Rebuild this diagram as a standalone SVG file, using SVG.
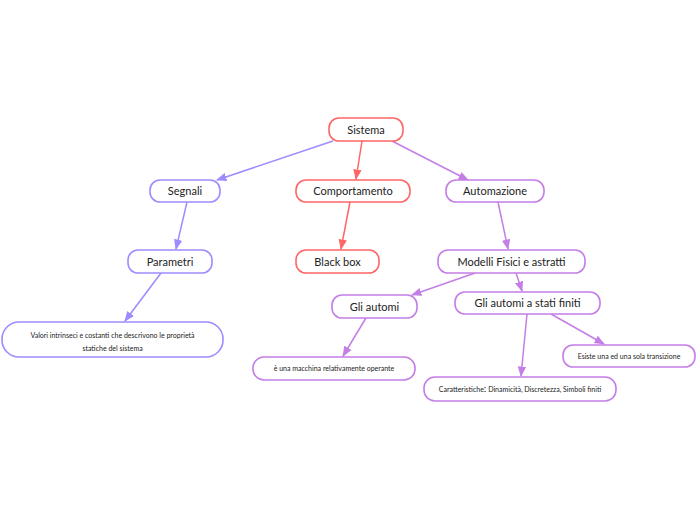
<svg xmlns="http://www.w3.org/2000/svg" width="697" height="520" viewBox="0 0 697 520">
<defs>
<marker id="ar" viewBox="0 0 10 10" refX="9" refY="5" markerWidth="7" markerHeight="7" orient="auto"><path d="M0,1 L10,5 L0,9 Z" fill="#ff6666"/></marker>
<marker id="ab" viewBox="0 0 10 10" refX="9" refY="5" markerWidth="7" markerHeight="7" orient="auto"><path d="M0,1 L10,5 L0,9 Z" fill="#9d8cff"/></marker>
<marker id="ap" viewBox="0 0 10 10" refX="9" refY="5" markerWidth="7" markerHeight="7" orient="auto"><path d="M0,1 L10,5 L0,9 Z" fill="#c47ee6"/></marker>
</defs>
<style>
rect{fill:#fff;stroke-width:1.6}
.r rect{stroke:#ff6666}
.b rect{stroke:#9d8cff}
.p rect{stroke:#c47ee6}
text{font-family:Lato,"Open Sans",sans-serif;fill:#222;text-anchor:middle}
.m{font-size:11px}
.s{font-size:7px}
#edges line{stroke-width:1.5;fill:none}
.er{stroke:#ff6666;marker-end:url(#ar)}
.eb{stroke:#9d8cff;marker-end:url(#ab)}
.ep{stroke:#c47ee6;marker-end:url(#ap)}
</style>
<rect x="0" y="0" width="697" height="520" style="fill:#fff;stroke:none"/>
<g id="edges">
<line class="eb" x1="333" y1="141" x2="217" y2="180"/>
<line class="er" x1="362" y1="141" x2="356" y2="179"/>
<line class="ep" x1="392" y1="141" x2="468" y2="180"/>
<line class="eb" x1="187" y1="202" x2="176" y2="249"/>
<line class="er" x1="350" y1="202" x2="341" y2="249"/>
<line class="eb" x1="161" y1="273" x2="125" y2="321"/>
<line class="ep" x1="498" y1="202" x2="508" y2="249"/>
<line class="ep" x1="475" y1="273" x2="412" y2="295"/>
<line class="ep" x1="516" y1="273" x2="522" y2="291"/>
<line class="ep" x1="366" y1="318" x2="343" y2="356"/>
<line class="ep" x1="527" y1="314" x2="521" y2="376"/>
<line class="ep" x1="551" y1="314" x2="604" y2="344"/>
</g>
<g id="n-sistema" class="r"><rect x="329" y="118" width="74" height="23" rx="10"/><text class="m" x="366" y="133.5">Sistema</text></g>
<g id="n-segnali" class="b"><rect x="150" y="180" width="70" height="22" rx="10"/><text class="m" x="185" y="195">Segnali</text></g>
<g id="n-comportamento" class="r"><rect x="296" y="180" width="114" height="22" rx="10"/><text class="m" x="353" y="195">Comportamento</text></g>
<g id="n-automazione" class="p"><rect x="446" y="180" width="98" height="22" rx="10"/><text class="m" x="495" y="195">Automazione</text></g>
<g id="n-parametri" class="b"><rect x="128" y="250" width="84" height="23" rx="10"/><text class="m" x="170" y="265.5">Parametri</text></g>
<g id="n-blackbox" class="r"><rect x="296" y="250" width="83" height="23" rx="10"/><text class="m" x="337.5" y="265.5">Black box</text></g>
<g id="n-modelli" class="p"><rect x="438" y="250" width="147" height="23" rx="10"/><text class="m" x="511.5" y="265.5">Modelli Fisici e astratti</text></g>
<g id="n-automi" class="p"><rect x="332" y="295" width="85" height="23" rx="10"/><text class="m" x="374.5" y="310.5">Gli automi</text></g>
<g id="n-stati" class="p"><rect x="455" y="292" width="145" height="22" rx="10"/><text class="m" x="527.5" y="307">Gli automi a stati finiti</text></g>
<g id="n-valori" class="b"><rect x="2" y="322" width="221" height="35" rx="17"/><text class="s" x="112.5" y="337.5">Valori intrinseci e costanti che descrivono le proprietà</text><text class="s" x="112.5" y="350.5">statiche del sistema</text></g>
<g id="n-macchina" class="p"><rect x="253" y="357" width="162" height="23" rx="11"/><text class="s" x="334" y="371">è una macchina relativamente operante</text></g>
<g id="n-caratteristiche" class="p"><rect x="424" y="377" width="192" height="24" rx="11"/><text class="s" x="520" y="391.5">Caratteristiche<tspan font-size="10px">:</tspan> Dinamicità, Discretezza, Simboli finiti</text></g>
<g id="n-esiste" class="p"><rect x="563" y="345" width="132" height="22" rx="10"/><text class="s" x="629" y="358.5">Esiste una ed una sola transizione</text></g>
</svg>
